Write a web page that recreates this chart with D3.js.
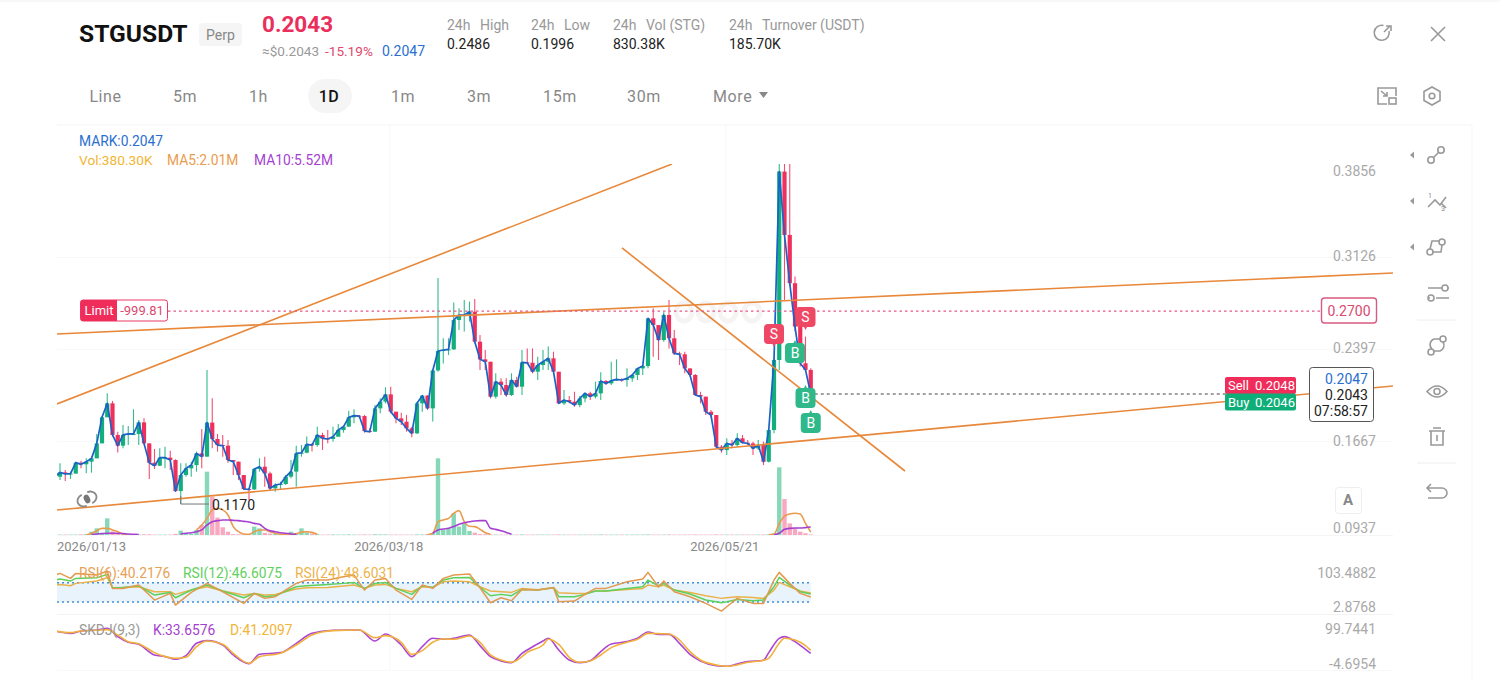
<!DOCTYPE html>
<html><head><meta charset="utf-8">
<script src="https://cdn.jsdelivr.net/npm/d3@7/dist/d3.min.js"></script>
<style>html,body{margin:0;padding:0;background:#fff}svg{display:block;font-family:Roboto,"Liberation Sans",sans-serif}</style>
</head><body><svg id="c" width="1500" height="693"></svg>
<script>
// ---------- data ----------
const firstDate = "2026-01-13";
const dateTicks = [0, 64, 128];
const dateLabels = ["2026/01/13", "2026/03/18", "2026/05/21"];
const closes = [.1387,.1421,.1408,.1411,.1498,.1485,.1506,.1532,.1651,.1858,.1969,.1718,.1633,.1718,.1726,.1726,.1818,.1651,.1498,.1474,
.1538,.1538,.1519,.1273,.1400,.1453,.1479,.1572,.1546,.1816,.1686,.1638,.1633,.1519,.1506,.1400,.1289,.1286,.1448,.1466,
.1413,.1294,.1321,.1329,.1387,.1427,.1572,.1577,.1644,.1638,.1718,.1691,.1686,.1704,.1757,.1784,.1858,.1871,.1868,.1749,
.1744,.1929,.1982,.2040,.1903,.1850,.1823,.1771,.1731,.1969,.2030,.1929,.2230,.2384,.2392,.2397,.2630,.2670,.2670,.2696,
.2458,.2318,.2299,.2022,.2141,.2114,.2035,.2154,.2101,.2294,.2291,.2220,.2273,.2299,.2326,.2220,.1969,.1995,.1982,.1955,
.2008,.2048,.2022,.2048,.2146,.2127,.2149,.2159,.2154,.2167,.2194,.2246,.2265,.2643,.2590,.2471,.2670,.2485,.2365,.2358,
.2246,.2194,.2035,.2022,.1902,.1876,.1625,.1598,.1651,.1638,.1691,.1656,.1651,.1611,.1638,.1506,.1757,.2313,.3808,.3305,
.2922,.2578,.2287,.2234,.2043];
const opens = [.1400, ...closes.slice(0, -1)];
const highs = [.1482,.1493,.1440,.1427,.1506,.1514,.1533,.1546,.1726,.1869,.2048,.1988,.1744,.1797,.1789,.1922,.1837,.1850,.1652,.1607,
.1612,.1625,.1593,.1525,.1493,.1493,.1506,.1586,.1765,.2234,.2009,.1726,.1718,.1678,.1519,.1506,.1387,.1295,.1453,.1533,
.1546,.1427,.1334,.1347,.1400,.1519,.1633,.1638,.1705,.1652,.1784,.1736,.1757,.1784,.1805,.1792,.1911,.1922,.1877,.1877,
.1771,.1956,.2009,.2096,.2101,.1895,.1895,.1877,.1784,.1982,.2035,.2035,.2234,.2964,.2485,.2485,.2770,.2723,.2789,.2776,
.2797,.2511,.2392,.2299,.2207,.2167,.2167,.2207,.2180,.2392,.2405,.2405,.2339,.2392,.2419,.2379,.2207,.2075,.2027,.2061,
.2027,.2056,.2061,.2141,.2215,.2154,.2299,.2318,.2167,.2247,.2194,.2220,.2273,.2643,.2723,.2590,.2696,.2789,.2551,.2379,
.2379,.2247,.2202,.2061,.2022,.1916,.1876,.1638,.1691,.1678,.1731,.1717,.1678,.1665,.1678,.1665,.1762,.2326,.47,.47,
.47,.2975,.2710,.2499,.2247];
const lows = [.1255,.1361,.1353,.1369,.1414,.1453,.1414,.1419,.1538,.1660,.1863,.1705,.1578,.1612,.1638,.1718,.1638,.1638,.1369,.1448,
.1472,.1453,.1440,.1268,.1170,.1387,.1387,.1427,.1453,.1546,.1612,.1586,.1546,.1498,.1400,.1361,.1281,.1202,.1281,.1427,
.1308,.1281,.1268,.1281,.1321,.1374,.1308,.1546,.1572,.1586,.1625,.1599,.1652,.1665,.1705,.1736,.1784,.1810,.1850,.1736,
.1736,.1744,.1890,.1968,.1890,.1810,.1797,.1744,.1699,.1726,.1903,.1917,.1824,.2220,.2286,.2352,.2392,.2551,.2538,.2617,
.2445,.2233,.2233,.2008,.2008,.2035,.2022,.2027,.2101,.2035,.2286,.2207,.2154,.2233,.2233,.2207,.1969,.1956,.1969,.1942,
.1937,.1977,.1995,.2008,.1995,.2114,.2114,.2149,.2141,.2101,.2141,.2154,.2194,.2247,.2339,.2313,.2458,.2405,.2352,.2273,
.2207,.2180,.2035,.1969,.1876,.1850,.1612,.1577,.1559,.1612,.1625,.1651,.1638,.1559,.1598,.1479,.1500,.1731,.2234,.2790,
.2900,.2538,.2262,.2219,.2043];
const volumes = [.3,.3,.3,.3,.3,.5,.6,2.3,4.6,1,11.5,2.5,1.2,.5,.5,.6,.4,.5,.5,.3,.3,.3,.3,.8,3,.8,.8,3.5,6.9,43.7,
26.5,12,5.3,2.3,.6,.5,.5,.4,5.8,4.6,1.5,1,.8,.5,.4,2.3,1,4.6,1.8,1,.6,.3,.3,.4,.3,.3,.4,.3,.3,.4,
.3,.5,.4,.4,.3,.3,.3,.3,.3,.4,.4,.7,1.2,52.9,3.5,4.6,15,5.8,8,2.8,1.6,.7,.5,.4,.3,.3,.3,.3,.3,.4,
.3,.3,.3,.3,.3,.3,.4,.3,.3,.3,.3,.3,.3,.3,.4,.3,.3,.3,.3,.3,.3,.3,.3,.4,.3,.3,.3,.4,.3,.3,
.3,.3,.4,.3,.3,.3,.4,.3,.3,.3,.3,.3,.3,.3,.3,.4,.5,1.2,46.7,24.8,8,4.6,2.3,1.2,.38];
const ma5Runs = [
 [6,[0,1.2,3,4.6,4.6,3.5,2.3,.7,0]],
 [27,[3.5,6.9,11.5,17.3,18.4,17.3,13.8,5.8,2.3,.7,.5,2.3,3.5,3.5,2.3,1.2,.5,.4,.5,.8,2,2.2,1.8,.5]],
 [71,[.2,1.2,9.2,10.4,11.5,15,16.8,9.2,6,5.8,4,1.6,.5]],
 [136,[.2,.5,8,13.1,14.5,15,14.5,8,2.01]]];
const ma10Runs = [
 [7,[.3,.7,1,1.2,1.2,1.2,1,.7,.5,.3]],
 [24,[.7,1.2,1.6,2.3,3.5,6.9,9.2,9.9,10.4,10.4,10.1,9.9,9.4,9,8,7.4,4.6,3,2.3,1.6,1.2,.7,.5]],
 [72,[1.2,3.5,4.1,4.6,5.8,7.4,8.5,9.2,9.7,9.9,9.9,4.6,3.9,3,1.8,.5]],
 [137,[.2,1.2,3.9,4.6,4.8,4.8,5.1,5.52]]];
const rsiIndex = [0,1,3,4,8,10,11,13,16,19,22,23,26,29,32,36,38,40,42,46,48,52,55,57,59,61,63,65,68,70,72,74,
 76,79,81,83,85,87,89,92,95,96,99,101,103,105,109,112,113,115,116,118,121,124,127,128,130,133,135,137,138,140,142,144];
const rsi6 = [85.8,89.3,78.9,89.3,85.8,94.1,58.2,58.2,65.1,34,47.8,23.6,49.9,68.6,51.3,27.1,47.8,37.5,40.9,68.6,75.5,75.5,82.4,85.8,54.7,75.5,78.9,54.7,35.4,65.1,58.2,78.9,
 85.8,87.9,59.6,28.5,38.9,32.6,56.1,54.7,59.6,30.6,31.9,45.8,58.2,58.2,72,77.5,91.4,61.7,73.4,51.3,40.9,27.1,11.2,20.2,37.5,27.1,27.1,75.5,91.4,68.6,47.8,40.2];
const rsi12 = [75.5,77.5,73.4,78.9,80.3,87.2,59.6,60.3,63.7,44.4,49.9,38.9,54.7,65.1,52.7,38.9,47.8,40.9,43,61.7,63.7,66.5,68.6,70.6,58.2,68.6,70.6,58.2,45.8,63.7,60.3,75.5,
 80.3,81,60.3,43,45.8,43,56.1,54.7,59.6,40.9,40.9,45.8,52.7,52.7,58.2,61.7,75.5,63.7,68.6,54.7,46.5,34,28.5,30.6,35.4,32.6,34,61.7,81,65.1,51.3,46.6];
const rsi24 = [65.1,66.5,63.7,68.6,73.4,80.3,59.6,60.3,61.7,51.3,51.3,45.8,54.7,61.7,52.7,44.4,47.8,44.4,45.8,56.8,59.6,60.3,63,65.1,58.2,65.1,66.5,58.2,51.3,61.7,60.3,72,
 73.4,72,61.7,52.7,51.3,49.9,58.2,55.4,60.3,49.2,47.8,47.8,52.7,52.7,56.1,58.2,65.1,61.7,65.1,54.7,49.9,43,37.5,38.9,40.9,39.5,37.5,54.7,70.6,61.7,52.7,48.6];
const kdjIndex = [0,3,5,8,10,12,14,16,19,21,23,25,27,29,32,34,37,39,43,46,49,53,58,61,63,66,68,70,72,74,
 76,79,81,83,85,87,89,90,93,94,96,98,100,102,104,106,109,111,113,115,117,119,121,123,126,128,130,132,135,136,138,139,141,143,144];
const kValues = [91.9,85.8,91.9,94.5,98.9,77.1,62.4,57.1,29.3,25,18,27.6,59.7,66.7,55.4,29.3,6.7,31,35.4,59.7,85.8,93.7,94.5,65.8,84.1,55.4,25,51,72.8,70.2,
 72.8,81.5,53.7,25,13.7,9.3,33.7,42.4,65.8,72.8,42.4,16.3,9.3,14.5,38,58,64.1,72.8,89.3,83.2,83.2,59.7,31,13.7,1.5,-.25,5.8,11.9,15.4,35.4,72.8,77.1,64.1,44.1,33.66];
const dValues = [91.9,87.6,91.9,93.7,95.4,81.5,64.1,58.9,35.4,25,20.6,23.2,51,65.8,57.1,33.7,7.6,25,33.7,55.4,81.5,92.8,94.5,74.5,79.7,62.4,31,40.6,62.4,71,
 70.2,78.9,62.4,29.3,16.3,10.2,25,36.3,55.4,70.2,57.1,23.2,10.2,13.7,29.3,48.4,62.4,70.2,85.8,85,84.1,68.4,38,16.3,3.2,-.25,3.2,10.2,15.4,20.6,59.7,72.8,68.4,53.7,41.21];
const priceTicks = [0.3856, 0.3126, 0.2397, 0.1667, 0.0937];
const trendLines = [
 [[0.43,.1964],[117.57,.3868]],
 [[0.43,.2519],[254.9,.3003]],
 [[108.05,.3202],[161.95,.1432]],
 [[0.43,.1122],[254.9,.2106]]];
const orders = [
 {i:137,p:.2519,t:"S"},{i:143,p:.2654,t:"S"},{i:141,p:.2368,t:"B"},{i:143,p:.2011,t:"B"},{i:144,p:.1813,t:"B"}];
const timeframes = ["Line","5m","1h","1D","1m","3m","15m","30m"];
const stats = [["24h","High","0.2486"],["24h","Low","0.1996"],["24h","Vol (STG)","830.38K"],["24h","Turnover (USDT)","185.70K"]];

// ---------- colours ----------
const GREEN="#12ae7c", RED="#f0305c", VG="#86d8b8", VR="#f8a8c0", ORANGE="#e8883a", BLUE="#1a62c8", GREY="#a9a9a9", PURPLE="#a53fd0", YEL="#f2b534", MAO="#ea9c4e";

// ---------- scales ----------
const x = d3.scaleLinear().domain([0,144]).range([54.75,810.75]);
const y = d3.scaleLinear().domain([0.2043,0.27]).range([394,311.2]);
const yVol = d3.scaleLinear().domain([0,69]).range([535,435]);
const yRsi = d3.scaleLinear().domain([70,30]).range([582.7,602]);
const yKdj = d3.scaleLinear().domain([33.66,99.74]).range([653.3,628]);

const svg = d3.select("#c");
const defs = svg.append("defs");
defs.append("clipPath").attr("id","main").append("rect").attr("x",57).attr("y",164).attr("width",1336).attr("height",371);
defs.append("clipPath").attr("id","sub").append("rect").attr("x",57).attr("y",550).attr("width",760).attr("height",125);

function T(s,px,py,o={}){const t=svg.append("text").attr("x",px).attr("y",py).text(s)
  .attr("font-size",o.size||14).attr("fill",o.fill||"#000").attr("font-weight",o.weight||400)
  .attr("text-anchor",o.anchor||"start").attr("dominant-baseline","central");
  if(o.ls)t.attr("letter-spacing",o.ls);return t;}

// panel borders
svg.append("rect").attr("width",1500).attr("height",2).attr("fill","#f8f8f8");
svg.append("line").attr("x1",57).attr("x2",1472).attr("y1",125).attr("y2",125).attr("stroke","#f5f5f5");
svg.append("line").attr("x1",1472).attr("x2",1472).attr("y1",125).attr("y2",680).attr("stroke","#f7f7f7");
svg.append("line").attr("x1",57).attr("x2",1393).attr("y1",535.5).attr("y2",535.5).attr("stroke","#f5f5f5");
svg.append("line").attr("x1",57).attr("x2",1393).attr("y1",614.5).attr("y2",614.5).attr("stroke","#f3f3f3");
svg.append("line").attr("x1",57).attr("x2",1393).attr("y1",670.5).attr("y2",670.5).attr("stroke","#f8f8f8");

// grid
svg.append("g").selectAll("line").data(priceTicks.slice(1,4)).join("line")
 .attr("x1",57).attr("x2",1393).attr("y1",d=>y(d)).attr("y2",d=>y(d)).attr("stroke","#f7f7f7");
svg.append("g").selectAll("line").data(dateTicks.slice(1)).join("line")
 .attr("x1",d=>x(d)-1).attr("x2",d=>x(d)-1).attr("y1",125).attr("y2",670).attr("stroke","#f7f7f7");

// faint watermark shapes
const wm = svg.append("g").attr("fill","none").attr("stroke","#f6f3f3").attr("stroke-width",5);
[[684,312],[706,312],[728,312],[752,312]].forEach(c=>wm.append("ellipse").attr("cx",c[0]).attr("cy",c[1]).attr("rx",8).attr("ry",9));

// header
T("STGUSDT",79,33,{size:24.6,weight:700,fill:"#111"});
svg.append("rect").attr("x",199).attr("y",23).attr("width",43).attr("height",23).attr("rx",4).attr("fill","#f5f5f5");
T("Perp",220.5,34.5,{size:14,fill:"#888",anchor:"middle"});
T("0.2043",262,24,{size:22.5,weight:700,fill:"#ea2f5c"});
T("≈$0.2043",262,51,{size:13.6,fill:"#999"});
T("-15.19%",325,51,{size:13.6,fill:"#e0486e"});
T("0.2047",382,51,{size:14,fill:"#2a6fd0"});
[447,531,613,729].forEach((px,k)=>{
  T(stats[k][0],px,25,{size:14,fill:"#999"});
  T(stats[k][1],px+33,25,{size:14,fill:"#999"});
  T(stats[k][2],px,44,{size:14,fill:"#222"});
});
// timeframes
svg.append("rect").attr("x",308).attr("y",79).attr("width",44).attr("height",34).attr("rx",17).attr("fill","#f5f5f5");
[105.5,185,258.5,329,403,479,560,644].forEach((px,k)=>{
  T(timeframes[k],px,96,{size:16,anchor:"middle",fill:k==3?"#111":"#888",weight:k==3?500:400,ls:"0.6px"});
});
T("More",713,96,{size:16,fill:"#888",ls:"0.6px"});
svg.append("path").attr("d","M759 92h9l-4.5 6z").attr("fill","#888");

// legend
T("MARK:0.2047",79,140.500,{size:13.8,fill:"#2a6fd0"});
T("Vol:380.30K",79,159.5,{size:13.7,fill:YEL});
T("MA5:2.01M",167,159.5,{size:13.8,fill:MAO});
T("MA10:5.52M",254,159.5,{size:13.8,fill:PURPLE});

// main pane
const main = svg.append("g").attr("clip-path","url(#main)");
const idx = d3.range(closes.length);
const upc = i=>closes[i]>=opens[i];
// volume
main.append("g").selectAll("rect").data(idx).join("rect")
 .attr("x",i=>x(i)-2.2).attr("width",4.4)
 .attr("y",i=>yVol(volumes[i])).attr("height",i=>535-yVol(volumes[i]))
 .attr("fill",i=>upc(i)?VG:VR);
const lineRun = d3.line().x(d=>x(d[0])).y(d=>yVol(d[1])).curve(d3.curveMonotoneX);
function runs(r,c){r.forEach(([s,v])=>main.append("path").attr("d",lineRun(v.map((a,k)=>[s+k,a]))).attr("fill","none").attr("stroke",c).attr("stroke-width",1.6));}
runs(ma5Runs,MAO); runs(ma10Runs,PURPLE);

// candles
main.append("g").selectAll("line").data(idx).join("line")
 .attr("x1",i=>x(i)).attr("x2",i=>x(i)).attr("y1",i=>y(highs[i])).attr("y2",i=>y(lows[i]))
 .attr("stroke",i=>upc(i)?GREEN:RED).attr("stroke-width",1.1).attr("opacity",.85);
main.append("g").selectAll("rect").data(idx).join("rect")
 .attr("x",i=>x(i)-2.1).attr("width",4.2)
 .attr("y",i=>Math.min(y(opens[i]),y(closes[i])))
 .attr("height",i=>Math.max(1,Math.abs(y(opens[i])-y(closes[i]))))
 .attr("fill",i=>upc(i)?GREEN:RED);
// mark line
main.append("path").attr("d",d3.line().x(i=>x(i)).y(i=>y(closes[i]))(idx))
 .attr("fill","none").attr("stroke",BLUE).attr("stroke-width",1.7).attr("stroke-linejoin","round");

// logo mark
const logo = svg.append("g").attr("transform","translate(87,499) rotate(-25)");
logo.append("path").attr("d","M-3 -6a7 6 0 0 0 0 12M3 -6a7 6 0 0 1 0 12").attr("fill","none").attr("stroke","#8a8a8a").attr("stroke-width",1.8);
logo.append("ellipse").attr("rx",3).attr("ry",4.5).attr("fill","#777");

// close price dashed line
svg.append("line").attr("x1",x(144)+4).attr("x2",1226).attr("y1",y(.2043)).attr("y2",y(.2043))
 .attr("stroke","#444").attr("stroke-dasharray","3 3");

// trend lines
main.append("g").selectAll("path").data(trendLines).join("path")
 .attr("d",d3.line().x(d=>x(d[0])).y(d=>y(d[1])))
 .attr("fill","none").attr("stroke",ORANGE).attr("stroke-width",1.6);

// limit line
svg.append("line").attr("x1",168).attr("x2",1321).attr("y1",y(.27)).attr("y2",y(.27))
 .attr("stroke","#e6588a").attr("stroke-width",1.3).attr("stroke-dasharray","2.5 3");
svg.append("rect").attr("x",80.5).attr("y",300).attr("width",87).attr("height",21).attr("rx",2.5).attr("fill","#fff").attr("stroke","#ec3a66");
svg.append("path").attr("d","M83 300h34v21h-34a2.5 2.5 0 0 1-2.5-2.5v-16a2.5 2.5 0 0 1 2.5-2.5z").attr("fill","#f02d5a");
T("Limit",99,310.5,{size:13,fill:"#fff",anchor:"middle"});
T("-999.81",142,310.5,{size:13,fill:"#d84a70",anchor:"middle"});
svg.append("rect").attr("x",1321.5).attr("y",298).attr("width",55).attr("height",25).attr("rx",3).attr("fill","#fff").attr("stroke","#d85a80").attr("stroke-width",1.4);
T("0.2700",1349,311,{size:14,fill:"#d84a70",anchor:"middle"});

// min label
svg.append("path").attr("d",`M${x(24)} ${y(lows[24])-8}V${y(lows[24])}H209`).attr("fill","none").attr("stroke","#777");
T("0.1170",212,505,{size:14,fill:"#222"});

// order markers
const om = svg.append("g").selectAll("g").data(orders).join("g").attr("transform",d=>`translate(${x(d.i)},${y(d.p)})`);
om.append("path").attr("d",d=>d.t=="S"?"M-2 9h4l-2 4z":"M-2 -9h4l-2 -4z").attr("fill",d=>d.t=="S"?"#ef4865":"#2fb98a");
om.append("rect").attr("x",-10).attr("y",-10).attr("width",20).attr("height",20).attr("rx",4).attr("fill",d=>d.t=="S"?"#ef4865":"#2fb98a");
om.append("text").text(d=>d.t).attr("text-anchor","middle").attr("dominant-baseline","central").attr("font-size",14).attr("fill","#fff");

// sell/buy tags
svg.append("rect").attr("x",1225).attr("y",377).attr("width",71).attr("height",17).attr("rx",2).attr("fill","#f02d5a");
svg.append("rect").attr("x",1225).attr("y",393.5).attr("width",71).attr("height",17).attr("rx",2).attr("fill","#0fae78");
T("Sell",1228,385.5,{size:13,fill:"#fff"});T("0.2048",1255,385.5,{size:13,fill:"#fff"});
T("Buy",1228,402,{size:13,fill:"#fff"});T("0.2046",1255,402,{size:13,fill:"#fff"});

// price box
svg.append("rect").attr("x",1309.5).attr("y",367.5).attr("width",64).attr("height",54).attr("rx",3).attr("fill","#fff").attr("stroke","#555");
T("0.2047",1368,378.5,{size:14,fill:"#2a6fd0",anchor:"end"});
T("0.2043",1368,394.5,{size:14,fill:"#222",anchor:"end"});
T("07:58:57",1368,410.5,{size:14,fill:"#222",anchor:"end"});

// axes
priceTicks.forEach((p,k)=>T(p.toFixed(4),1376,[171,256,348,440.500,527.500][k],{fill:GREY,anchor:"end"}));
T("103.4882",1376,573,{fill:GREY,anchor:"end"});
T("2.8768",1376,607,{fill:GREY,anchor:"end"});
T("99.7441",1376,629,{fill:GREY,anchor:"end"});
T("-4.6954",1376,664,{fill:GREY,anchor:"end"});
T(dateLabels[0],57,546.5,{size:13,fill:"#888"});
T(dateLabels[1],x(dateTicks[1])-2,546.5,{size:13,fill:"#888",anchor:"middle"});
T(dateLabels[2],x(dateTicks[2])-2,546.5,{size:13,fill:"#888",anchor:"middle"});

// "A" toggle
svg.append("rect").attr("x",1335.5).attr("y",487.5).attr("width",26).attr("height",26).attr("rx",3).attr("fill","#fff").attr("stroke","#eee");
T("A",1348,499.5,{size:15,weight:700,fill:"#888",anchor:"middle"});

// RSI pane
const sub = svg.append("g").attr("clip-path","url(#sub)");
sub.append("rect").attr("x",57).attr("width",x(144)-57).attr("y",yRsi(70)).attr("height",yRsi(30)-yRsi(70)).attr("fill","#e8f3fc");
[70,30].forEach(v=>sub.append("line").attr("x1",57).attr("x2",x(144)).attr("y1",yRsi(v)).attr("y2",yRsi(v))
  .attr("stroke","#3f8fdc").attr("stroke-width",1.5).attr("stroke-dasharray","2 3"));
function pl(ix,vals,sc,c,w,curve){sub.append("path").attr("d",d3.line().x((d,k)=>x(ix[k])).y(d=>sc(d)).curve(curve||d3.curveLinear)(vals))
  .attr("fill","none").attr("stroke",c).attr("stroke-width",w).attr("stroke-linejoin","round");}
pl(rsiIndex,rsi24,yRsi,"#eab24a",1.5);
pl(rsiIndex,rsi12,yRsi,"#5ed05a",1.5);
pl(rsiIndex,rsi6,yRsi,"#e39a50",1.5);
T("RSI(6):40.2176",79,572.5,{size:13.8,fill:"#e8a055"});
T("RSI(12):46.6075",183,572.5,{size:13.8,fill:"#62d05e"});
T("RSI(24):48.6031",295,572.5,{size:13.8,fill:"#edb44a"});

// SKDJ pane
pl(kdjIndex,kValues,yKdj,"#ad45d4",1.6,d3.curveMonotoneX);
pl(kdjIndex,dValues,yKdj,"#f2b03c",1.6,d3.curveMonotoneX);
T("SKDJ(9,3)",79,630,{size:13.8,fill:"#999"});
T("K:33.6576",153,630,{size:13.8,fill:PURPLE});
T("D:41.2097",230,630,{size:13.8,fill:YEL});

// icons
const ic = svg.append("g").attr("fill","none").attr("stroke","#999").attr("stroke-width",1.6);
const P=d=>ic.append("path").attr("d",d), C=(cx,cy,r)=>ic.append("circle").attr("cx",cx).attr("cy",cy).attr("r",r);
P("M1389 31a7.500 7.500 0 1 1-5.500-5.500M1384 32l6-6M1386 26h5v5");
P("M1431 27l14 14M1445 27l-14 14");
P("M1383 88h-5v16h9M1391 88h5v8M1378 88h18");
P("M1381 91l6 5M1387 92v4h-4");
ic.append("rect").attr("x",1389).attr("y",98).attr("width",7).attr("height",6);
P("M1432 87l8 4.5v9l-8 4.5-8-4.5v-9z");C(1432,96,2.8);
C(1431,160,3.2);C(1441,150,3.2);P("M1433.5 157.5l5-5");
P("M1428 207l7-7 5 5 6-8M1441 203l5 5");
svg.append("text").text("1").attr("x",1428).attr("y",198).attr("font-size",7).attr("fill","#888");
svg.append("text").text("3").attr("x",1441).attr("y",211).attr("font-size",7).attr("fill","#888");
C(1430,252,3);C(1442,242,3);P("M1433 252h8l1-7M1439 241h-7l-2 8");
P("M1428 288h14M1449 288h-1M1428 298h2M1436 298h13");C(1445,288,3);C(1431,298,3);
P("M1434 339h6M1434 351h6a6 6 0 0 0 3-9M1434 339a6 6 0 0 0-2 10");C(1443,339,3);C(1431,352,3);
P("M1427 391.500q10-11 20 0q-10 11-20 0z");C(1437,391.5,3);
P("M1429 431h16M1433 428h8M1431 431v14h12v-14M1437 435v6");
P("M1431 484l-4 4 4 4M1427 488h15a5 5 0 0 1 0 10h-14");
svg.append("g").selectAll("path").data([155,201,247]).join("path")
 .attr("d",d=>`M1414 ${d-3.500}v7l-4-3.500z`).attr("fill","#999");
svg.append("g").selectAll("line").data([320,463]).join("line")
 .attr("x1",1417).attr("x2",1456).attr("y1",d=>d).attr("y2",d=>d).attr("stroke","#eee");
</script></body></html>
